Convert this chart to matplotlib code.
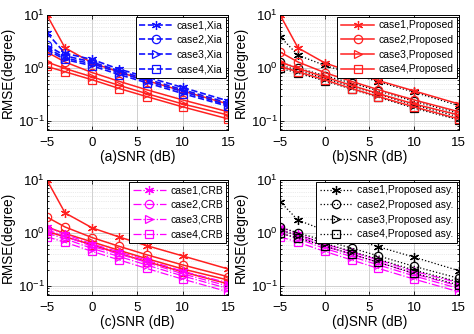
import matplotlib
matplotlib.use("Agg")
import matplotlib.pyplot as plt
from matplotlib.ticker import LogLocator, FixedLocator, NullFormatter

plt.rcParams['font.family'] = ['Liberation Sans', 'DejaVu Sans']
plt.rcParams['mathtext.fontset'] = 'custom'
plt.rcParams['mathtext.rm'] = 'Liberation Sans'

snr = [-5, -3, 0, 3, 6, 10, 15]
cases = ["case1", "case2", "case3", "case4"]
markers = [(6, 2, 0), "o", ">", "s"]

# RMSE curves (degree)
proposed = [
    [10.0, 2.4, 1.25, 0.84, 0.58, 0.37, 0.21],
    [2.0, 1.3, 0.82, 0.56, 0.39, 0.25, 0.15],
    [1.3, 0.98, 0.68, 0.47, 0.33, 0.21, 0.13],
    [1.07, 0.85, 0.60, 0.41, 0.29, 0.185, 0.11],
]
asy = [
    [3.9, 1.75, 1.12, 0.79, 0.55, 0.35, 0.195],
    [1.3, 1.0, 0.72, 0.52, 0.37, 0.235, 0.14],
    [1.15, 0.9, 0.64, 0.45, 0.32, 0.20, 0.12],
    [1.0, 0.8, 0.57, 0.40, 0.28, 0.175, 0.105],
]
crb = [
    [1.3, 0.95, 0.62, 0.44, 0.31, 0.19, 0.115],
    [1.15, 0.87, 0.56, 0.40, 0.28, 0.17, 0.10],
    [1.0, 0.78, 0.51, 0.36, 0.25, 0.155, 0.09],
    [0.85, 0.67, 0.45, 0.31, 0.215, 0.135, 0.078],
]
xia = [
    [4.6, 1.9, 1.45, 0.95, 0.68, 0.43, 0.24],
    [2.7, 1.7, 1.30, 0.88, 0.62, 0.39, 0.22],
    [2.4, 1.55, 1.20, 0.82, 0.57, 0.36, 0.20],
    [2.2, 1.45, 1.10, 0.75, 0.53, 0.33, 0.19],
]

styles = {
    "Proposed": dict(color="#ff2020", ls="-", lw=1.1),
    "Proposed asy.": dict(color="black", ls=":", lw=0.9),
    "CRB": dict(color="#ff00ff", ls="-.", lw=0.9),
    "Xia": dict(color="#1010ff", ls="--", lw=1.2),
}
series = {"Proposed": proposed, "Proposed asy.": asy, "CRB": crb, "Xia": xia}

panels = [
    ("(a)", "Xia", "Proposed", [0.099, 0.611, 0.382, 0.344]),
    ("(b)", "Proposed", "Proposed asy.", [0.591, 0.611, 0.377, 0.344]),
    ("(c)", "CRB", "Proposed", [0.099, 0.117, 0.382, 0.344]),
    ("(d)", "Proposed asy.", "CRB", [0.591, 0.117, 0.377, 0.344]),
]

fig = plt.figure(figsize=(4.74, 3.34), dpi=100)

def draw(ax, name):
    st = styles[name]
    handles = []
    for i, vals in enumerate(series[name]):
        h, = ax.semilogy(snr, vals, color=st["color"], ls=st["ls"], lw=st["lw"],
                         marker=markers[i], mfc="none", mec=st["color"],
                         ms=6.5 if i == 0 else 6, mew=0.9,
                         label=f"{cases[i]},{name}")
        handles.append(h)
    return handles

for tag, legend_name, other_name, rect in panels:
    ax = fig.add_axes(rect)
    draw(ax, other_name)
    hs = draw(ax, legend_name)
    ax.set_xlim(-5, 15)
    ax.set_ylim(0.068, 10)
    ax.xaxis.set_major_locator(FixedLocator([-5, 0, 5, 10, 15]))
    ax.yaxis.set_major_locator(LogLocator(base=10, numticks=10))
    ax.yaxis.set_minor_locator(LogLocator(base=10, subs=range(2, 10), numticks=10))
    ax.yaxis.set_minor_formatter(NullFormatter())
    ax.grid(True, which="major", color="#c8c8c8", lw=0.6, ls="-")
    ax.grid(True, which="minor", axis="y", color="#d8d8d8", lw=0.5, ls=":")
    ax.tick_params(direction="in", which="both", top=True, right=True,
                   labelsize=9.5, length=3, width=0.6)
    ax.tick_params(axis="x", pad=5)
    ax.tick_params(axis="y", pad=1.5)
    ax.tick_params(which="minor", length=1.5)
    for s in ax.spines.values():
        s.set_linewidth(0.7)
    ax.set_ylabel("RMSE(degree)", fontsize=9.8, labelpad=2)
    ax.set_xlabel(f"{tag}SNR (dB)", fontsize=9.8, labelpad=1)
    leg = ax.legend(handles=hs, loc="upper right", fontsize=7.5, frameon=True,
                    fancybox=False, edgecolor="black", framealpha=1,
                    handlelength=3.2, handletextpad=0.4, borderpad=0.35,
                    labelspacing=0.45, borderaxespad=0.15)
    leg.get_frame().set_linewidth(0.7)

fig.savefig("out.png", dpi=100, facecolor="white")
